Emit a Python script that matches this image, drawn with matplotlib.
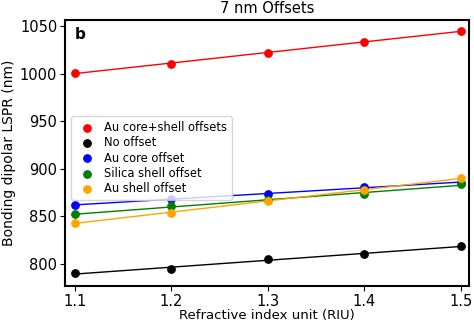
import matplotlib
matplotlib.use("Agg")
import matplotlib.pyplot as plt
import numpy as np

riu = [1.1, 1.2, 1.3, 1.4, 1.5]

series_names = ["Au core+shell offsets", "No offset", "Au core offset",
                "Silica shell offset", "Au shell offset"]
series_colors = ["red", "black", "blue", "green", "orange"]
core_shell = [1000.5, 1010.5, 1021.5, 1033.5, 1044.5]
no_offset = [790.5, 794.5, 805.5, 811.0, 818.5]
core = [862.0, 868.0, 874.0, 881.0, 885.5]
silica = [852.5, 860.5, 867.0, 873.5, 884.0]
shell = [843.0, 854.0, 866.5, 878.0, 890.0]
series_vals = [core_shell, no_offset, core, silica, shell]

fig, ax = plt.subplots(figsize=(4.74, 3.25), dpi=100)

x = np.array(riu)
for name, color, vals in zip(series_names, series_colors, series_vals):
    ax.scatter(x, vals, color=color, s=28, zorder=3, label=name)
    slope, icpt = np.polyfit(x, vals, 1)
    ax.plot(x, slope * x + icpt, color=color, lw=1, zorder=2)

ax.set_xlim(1.09, 1.508)
ax.set_ylim(777, 1056)
ax.set_xticks(riu)
ax.set_yticks([800, 850, 900, 950, 1000, 1050])
ax.tick_params(labelsize=10.5, pad=2)
ax.set_xlabel("Refractive index unit (RIU)", fontsize=9.5)
ax.xaxis.set_label_coords(0.5, -0.087)
ax.set_ylabel("Bonding dipolar LSPR (nm)", fontsize=10)
ax.yaxis.set_label_coords(-0.12, 0.5)
ax.set_title("7 nm Offsets", fontsize=10.5, pad=5)
for sp in ax.spines.values():
    sp.set_linewidth(1.5)
ax.text(0.025, 0.975, "b", transform=ax.transAxes, fontsize=11,
        fontweight="bold", va="top", ha="left")
ax.legend(loc="upper left", bbox_to_anchor=(0.0, 0.66), fontsize=8.3,
          handletextpad=0.5, borderpad=0.4, labelspacing=0.2, scatterpoints=1)

fig.subplots_adjust(left=0.137, right=0.989, top=0.938, bottom=0.12)
fig.savefig("out.png", dpi=100)
